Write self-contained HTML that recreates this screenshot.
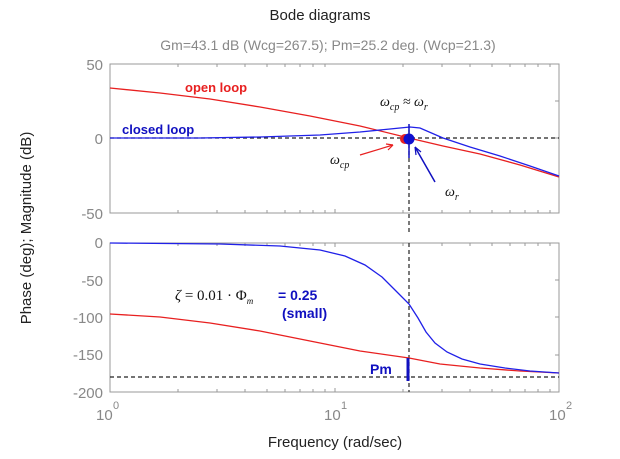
<!DOCTYPE html>
<html><head><meta charset="utf-8"><style>
html,body{margin:0;padding:0;background:#fff;}
svg{display:block;font-family:"Liberation Sans",Arial,sans-serif;}
</style></head><body>
<svg width="620" height="459" viewBox="0 0 620 459" xmlns="http://www.w3.org/2000/svg">
<rect width="620" height="459" fill="#fff"/>
<text x="320" y="20" font-size="15" text-anchor="middle" fill="#222">Bode diagrams</text>
<text x="328" y="50" font-size="14" text-anchor="middle" fill="#888">Gm=43.1 dB (Wcg=267.5);  Pm=25.2 deg. (Wcp=21.3)</text>
<text transform="translate(31,228) rotate(-90)" font-size="15" text-anchor="middle" fill="#222">Phase (deg); Magnitude (dB)</text>
<text x="335" y="447" font-size="15" text-anchor="middle" fill="#222">Frequency (rad/sec)</text>
<g font-size="15" fill="#888" text-anchor="end">
<text x="103" y="70">50</text><text x="103" y="144">0</text><text x="103" y="219">-50</text>
<text x="103" y="248">0</text><text x="103" y="286">-50</text><text x="103" y="323">-100</text><text x="103" y="360">-150</text><text x="103" y="398">-200</text>
</g>
<g font-size="15" fill="#888">
<text x="96" y="420">10</text><text x="113" y="409" font-size="11">0</text>
<text x="324" y="420">10</text><text x="341" y="409" font-size="11">1</text>
<text x="549" y="420">10</text><text x="566" y="409" font-size="11">2</text>
</g>
<g fill="none" stroke="#999" stroke-width="1">
<rect x="110" y="64" width="449" height="149"/>
<rect x="110" y="243" width="449" height="149"/>
</g>
<g stroke="#999" stroke-width="1">
<path d="M178 64v3M217 64v3M245 64v3M267 64v3M285 64v3M300 64v3M313 64v3M325 64v3M403 64v3M442 64v3M470 64v3M492 64v3M510 64v3M525 64v3M538 64v3M550 64v3
M178 213v-3M217 213v-3M245 213v-3M267 213v-3M285 213v-3M300 213v-3M313 213v-3M325 213v-3M335 213v-4M403 213v-3M442 213v-3M470 213v-3M492 213v-3M510 213v-3M525 213v-3M538 213v-3M550 213v-3
M178 243v3M217 243v3M245 243v3M267 243v3M285 243v3M300 243v3M313 243v3M325 243v3M335 243v4M403 243v3M442 243v3M470 243v3M492 243v3M510 243v3M525 243v3M538 243v3M550 243v3
M178 392v-3M217 392v-3M245 392v-3M267 392v-3M285 392v-3M300 392v-3M313 392v-3M325 392v-3M335 392v-4M403 392v-3M442 392v-3M470 392v-3M492 392v-3M510 392v-3M525 392v-3M538 392v-3M550 392v-3
M555 101h4M555 138h4M555 176h4M555 280h4M555 317h4M555 355h4"/>
</g>
<g stroke="#222" stroke-width="1.2" stroke-dasharray="4,3" fill="none">
<path d="M110 138H559"/><path d="M110 377H559"/><path d="M409 130V235"/><path d="M409 243V392"/>
</g>
<polyline fill="none" stroke="#e82020" stroke-width="1.3" points="110,88 160,93 210,99 260,107 310,116 360,126 409,138 443,146 480,154 520,165 559,177"/>
<polyline fill="none" stroke="#2020e8" stroke-width="1.3" points="110,138 200,138 260,137 320,135 360,132 390,129 410,127 420,128 443,138 470,147 500,156 530,166 559,176"/>
<polyline fill="none" stroke="#e82020" stroke-width="1.3" points="110,314 160,317 210,323 260,331 310,341 360,351 409,358 440,364 480,368 520,371 559,373"/>
<polyline fill="none" stroke="#2020e8" stroke-width="1.3" points="110,243 220,244 280,246 320,250 345,256 365,265 382,277 396,291 409,304 418,318 426,332 435,343 447,352 462,359 480,364 505,368 530,371 559,373"/>
<text x="185" y="92" font-size="13" font-weight="bold" fill="#e82020">open  loop</text>
<text x="122" y="134" font-size="13" font-weight="bold" fill="#1010c0">closed loop</text>
<circle cx="405" cy="139" r="5" fill="#e82020"/>
<circle cx="409" cy="139" r="5.5" fill="#1010d0"/>
<path d="M409 124V158" stroke="#1010c0" stroke-width="1.5"/>
<text x="380" y="106" font-size="14" font-style="italic" font-family="Liberation Serif,serif" fill="#111">ω<tspan font-size="10" dy="4">cp</tspan><tspan dy="-4"> ≈ ω</tspan><tspan font-size="10" dy="4">r</tspan></text>
<path d="M360 155L393 145" stroke="#e82020" stroke-width="1.2"/><path d="M393 145l-7 -1M393 145l-5 5" stroke="#e82020" stroke-width="1.2"/>
<text x="330" y="164" font-size="14" font-style="italic" font-family="Liberation Serif,serif" fill="#111">ω<tspan font-size="10" dy="4">cp</tspan></text>
<path d="M435 182L415 147" stroke="#1010c0" stroke-width="1.5"/><path d="M415 147l1 8M415 147l6 5" stroke="#1010c0" stroke-width="1.2"/>
<text x="445" y="196" font-size="14" font-style="italic" font-family="Liberation Serif,serif" fill="#111">ω<tspan font-size="10" dy="4">r</tspan></text>
<text x="175" y="300" font-size="15" font-family="Liberation Serif,serif" fill="#111"><tspan font-style="italic">ζ</tspan> = 0.01 · Φ<tspan font-size="9" dy="4" font-style="italic">m</tspan></text>
<text x="278" y="300" font-size="14" font-weight="bold" fill="#1010c0">= 0.25</text>
<text x="282" y="318" font-size="14" font-weight="bold" fill="#1010c0">(small)</text>
<text x="370" y="374" font-size="14" font-weight="bold" fill="#1010c0">Pm</text>
<path d="M408 358V381" stroke="#1010c0" stroke-width="3"/>
</svg>
</body></html>
